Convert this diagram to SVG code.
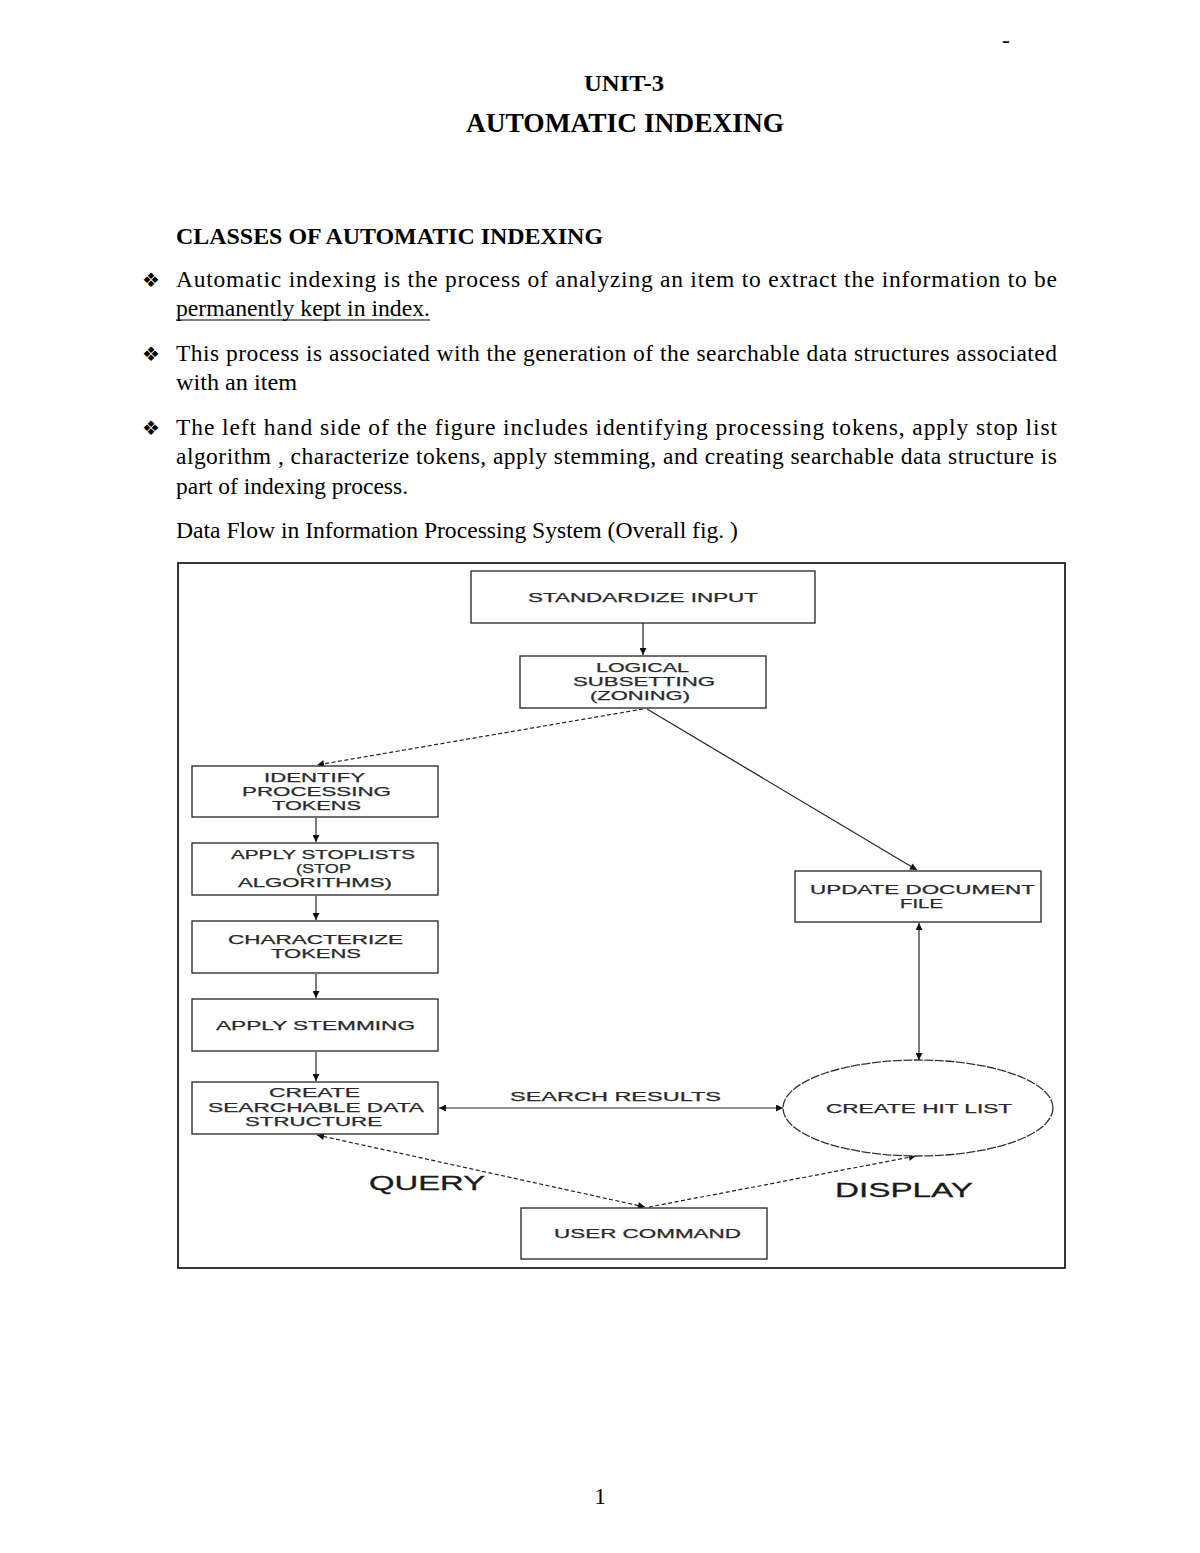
<svg xmlns="http://www.w3.org/2000/svg" width="1200" height="1553" viewBox="0 0 1200 1553">
<defs>
<style>
.serif{font-family:"Liberation Serif","Times New Roman",serif;fill:#000;}
.body{font-size:23.5px;}
.bold{font-weight:bold;}
.bul{font-family:"DejaVu Sans",sans-serif;font-size:20px;fill:#000;}
.box{fill:#fff;stroke:#333;stroke-width:1.4;}
.lbl{font-family:"Liberation Sans",Arial,sans-serif;font-size:12.5px;fill:#2a2a2a;stroke:#2a2a2a;stroke-width:0.25;}
.big{font-family:"Liberation Sans",Arial,sans-serif;font-size:20px;fill:#1a1a1a;stroke:#1a1a1a;stroke-width:0.3;}
.con{fill:none;stroke:#222;stroke-width:1.2;}
.dash{stroke-dasharray:4 2.5;}
</style>
<marker id="ah" viewBox="0 0 10 10" refX="10" refY="5" markerWidth="9" markerHeight="7" markerUnits="userSpaceOnUse" orient="auto-start-reverse">
<path d="M0,0 L10,5 L0,10 z" fill="#111"/>
</marker>
</defs>
<rect width="1200" height="1553" fill="#fff"/>

<g id="page-text">
<text class="serif body" x="1002" y="48">-</text>
<text class="serif body bold" x="584" y="91" textLength="80" lengthAdjust="spacingAndGlyphs">UNIT-3</text>
<text class="serif bold" style="font-size:27px" x="466" y="132" textLength="318" lengthAdjust="spacingAndGlyphs">AUTOMATIC INDEXING</text>
<text class="serif body bold" x="176" y="244" textLength="427" lengthAdjust="spacingAndGlyphs">CLASSES OF AUTOMATIC INDEXING</text>

<text class="bul" x="142" y="287">❖</text>
<text class="serif body" x="176" y="287" textLength="881" lengthAdjust="spacing">Automatic indexing is the process of analyzing an item to extract the information to be</text>
<text class="serif body" x="176" y="316" textLength="254" lengthAdjust="spacingAndGlyphs">permanently kept in index.</text>
<line x1="176" y1="320" x2="430" y2="320" stroke="#000" stroke-width="1.2"/>

<text class="bul" x="142" y="361">❖</text>
<text class="serif body" x="176" y="361" textLength="881" lengthAdjust="spacing">This process is associated with the generation of the searchable data structures associated</text>
<text class="serif body" x="176" y="390" textLength="121" lengthAdjust="spacingAndGlyphs">with an item</text>

<text class="bul" x="142" y="435">❖</text>
<text class="serif body" x="176" y="435" textLength="881" lengthAdjust="spacing">The left hand side of the figure includes identifying processing tokens, apply stop list</text>
<text class="serif body" x="176" y="464" textLength="881" lengthAdjust="spacing">algorithm , characterize tokens, apply stemming, and creating  searchable data structure is</text>
<text class="serif body" x="176" y="494" textLength="232" lengthAdjust="spacingAndGlyphs">part of indexing process.</text>
<text class="serif body" x="176" y="538" textLength="562" lengthAdjust="spacingAndGlyphs">Data Flow in Information Processing System (Overall fig. )</text>

<text class="serif body" x="600" y="1504" text-anchor="middle">1</text>
</g>

<rect id="frame" x="178" y="563" width="887" height="705" fill="none" stroke="#222" stroke-width="1.8"/>

<g id="connectors">
<line class="con" x1="643" y1="623" x2="643" y2="655" marker-end="url(#ah)"/>
<line class="con dash" x1="643" y1="709" x2="317" y2="765" marker-end="url(#ah)"/>
<line class="con" x1="647" y1="709" x2="917" y2="870" marker-end="url(#ah)"/>
<line class="con" x1="316" y1="818" x2="316" y2="842" marker-end="url(#ah)"/>
<line class="con" x1="316" y1="896" x2="316" y2="920" marker-end="url(#ah)"/>
<line class="con" x1="316" y1="974" x2="316" y2="998" marker-end="url(#ah)"/>
<line class="con" x1="316" y1="1052" x2="316" y2="1081" marker-end="url(#ah)"/>
<line class="con" x1="439" y1="1108" x2="783" y2="1108" marker-start="url(#ah)" marker-end="url(#ah)"/>
<line class="con" x1="919" y1="923" x2="919" y2="1060" marker-start="url(#ah)" marker-end="url(#ah)"/>
<line class="con dash" x1="317" y1="1135" x2="645" y2="1207" marker-start="url(#ah)" marker-end="url(#ah)"/>
<line class="con dash" x1="649" y1="1207" x2="916" y2="1156" marker-end="url(#ah)"/>
</g>

<g id="n-standardize">
<rect class="box" x="471" y="571" width="344" height="52"/>
<text class="lbl" x="528" y="602" textLength="230" lengthAdjust="spacingAndGlyphs">STANDARDIZE INPUT</text>
</g>
<g id="n-logical">
<rect class="box" x="520" y="656" width="246" height="52"/>
<text class="lbl" x="596" y="672" textLength="93" lengthAdjust="spacingAndGlyphs">LOGICAL</text>
<text class="lbl" x="573" y="686" textLength="142" lengthAdjust="spacingAndGlyphs">SUBSETTING</text>
<text class="lbl" x="590" y="700" textLength="100" lengthAdjust="spacingAndGlyphs">(ZONING)</text>
</g>
<g id="n-identify">
<rect class="box" x="192" y="766" width="246" height="51"/>
<text class="lbl" x="264" y="782" textLength="101" lengthAdjust="spacingAndGlyphs">IDENTIFY</text>
<text class="lbl" x="242" y="796" textLength="149" lengthAdjust="spacingAndGlyphs">PROCESSING</text>
<text class="lbl" x="272" y="810" textLength="89" lengthAdjust="spacingAndGlyphs">TOKENS</text>
</g>
<g id="n-stoplists">
<rect class="box" x="192" y="843" width="246" height="52"/>
<text class="lbl" x="231" y="859" textLength="184" lengthAdjust="spacingAndGlyphs">APPLY STOPLISTS</text>
<text class="lbl" x="296" y="873" textLength="55" lengthAdjust="spacingAndGlyphs">(STOP</text>
<text class="lbl" x="238" y="887" textLength="154" lengthAdjust="spacingAndGlyphs">ALGORITHMS)</text>
</g>
<g id="n-characterize">
<rect class="box" x="192" y="921" width="246" height="52"/>
<text class="lbl" x="228" y="944" textLength="175" lengthAdjust="spacingAndGlyphs">CHARACTERIZE</text>
<text class="lbl" x="271" y="958" textLength="90" lengthAdjust="spacingAndGlyphs">TOKENS</text>
</g>
<g id="n-stemming">
<rect class="box" x="192" y="999" width="246" height="52"/>
<text class="lbl" x="216" y="1030" textLength="199" lengthAdjust="spacingAndGlyphs">APPLY STEMMING</text>
</g>
<g id="n-searchable">
<rect class="box" x="192" y="1082" width="246" height="52"/>
<text class="lbl" x="269" y="1097" textLength="91" lengthAdjust="spacingAndGlyphs">CREATE</text>
<text class="lbl" x="208" y="1112" textLength="216" lengthAdjust="spacingAndGlyphs">SEARCHABLE DATA</text>
<text class="lbl" x="245" y="1126" textLength="137" lengthAdjust="spacingAndGlyphs">STRUCTURE</text>
</g>
<g id="n-update">
<rect class="box" x="795" y="871" width="246" height="51"/>
<text class="lbl" x="810" y="894" textLength="225" lengthAdjust="spacingAndGlyphs">UPDATE DOCUMENT</text>
<text class="lbl" x="900" y="908" textLength="43" lengthAdjust="spacingAndGlyphs">FILE</text>
</g>
<g id="n-hitlist">
<ellipse cx="918" cy="1108" rx="135" ry="48" fill="#fff" stroke="#333" stroke-width="1.3" stroke-dasharray="9 1.5"/>
<text class="lbl" x="826" y="1113" textLength="186" lengthAdjust="spacingAndGlyphs">CREATE HIT LIST</text>
</g>
<g id="n-user">
<rect class="box" x="521" y="1208" width="246" height="51"/>
<text class="lbl" x="554" y="1238" textLength="187" lengthAdjust="spacingAndGlyphs">USER COMMAND</text>
</g>

<g id="labels">
<text class="lbl" x="510" y="1101" textLength="211" lengthAdjust="spacingAndGlyphs">SEARCH RESULTS</text>
<text class="big" x="369" y="1190" textLength="116" lengthAdjust="spacingAndGlyphs">QUERY</text>
<text class="big" x="835" y="1197" textLength="138" lengthAdjust="spacingAndGlyphs">DISPLAY</text>
</g>
</svg>
